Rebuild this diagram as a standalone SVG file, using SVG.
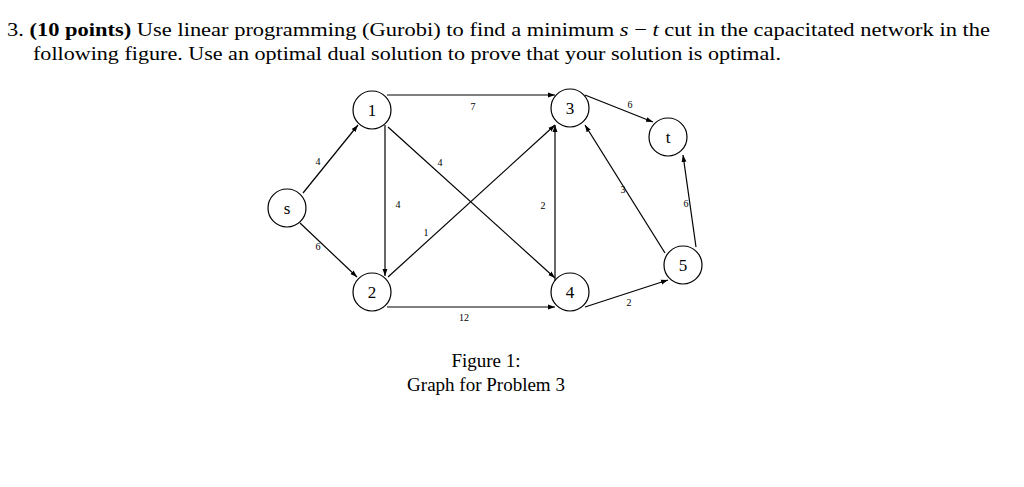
<svg xmlns="http://www.w3.org/2000/svg" width="1024" height="487" viewBox="0 0 1024 487">
<style>
text{font-family:"Liberation Serif","DejaVu Serif",serif;fill:#000}
.n circle{fill:#fff;stroke:#000;stroke-width:1.2}
.n text{font-size:17px;text-anchor:middle}
.e line{stroke:#000;stroke-width:1.2;marker-end:url(#a)}
.l{font-size:10px;text-anchor:middle}
.h{font-size:19px}
</style>
<defs><marker id="a" viewBox="0 0 10 10" refX="10" refY="5" markerWidth="7" markerHeight="7" orient="auto" markerUnits="userSpaceOnUse"><path d="M0,1.5L10,5L0,8.5z" fill="#000"/></marker></defs>
<rect width="1024" height="487" fill="#fff"/>
<text class="h" x="7" y="36" textLength="983" lengthAdjust="spacingAndGlyphs">3. <tspan font-weight="bold">(10 points)</tspan> Use linear programming (Gurobi) to find a minimum <tspan font-style="italic">s</tspan> − <tspan font-style="italic">t</tspan> cut in the capacitated network in the</text>
<text class="h" x="33" y="60" textLength="748" lengthAdjust="spacingAndGlyphs">following figure. Use an optimal dual solution to prove that your solution is optimal.</text>
<g id="connectors" class="e">
<line x1="303" y1="193" x2="358" y2="125"/>
<line x1="300" y1="223" x2="357" y2="277"/>
<line x1="387" y1="95" x2="555" y2="95"/>
<line x1="385" y1="125" x2="385" y2="276"/>
<line x1="388" y1="127" x2="555" y2="278"/>
<line x1="388" y1="277" x2="555" y2="125"/>
<line x1="387" y1="307" x2="555" y2="307"/>
<line x1="555" y1="292" x2="555" y2="125"/>
<line x1="585" y1="95" x2="653" y2="122"/>
<line x1="665" y1="253" x2="585" y2="125"/>
<line x1="696" y1="247" x2="683" y2="155"/>
<line x1="585" y1="307" x2="668" y2="280"/>
</g>
<g id="labels">
<text class="l" x="318" y="165">4</text>
<text class="l" x="318" y="250">6</text>
<text class="l" x="473" y="110">7</text>
<text class="l" x="398" y="208">4</text>
<text class="l" x="440" y="166">4</text>
<text class="l" x="426" y="236">1</text>
<text class="l" x="543" y="209">2</text>
<text class="l" x="630" y="108">6</text>
<text class="l" x="623" y="193">3</text>
<text class="l" x="686" y="207">6</text>
<text class="l" x="629" y="306">2</text>
<text class="l" x="464" y="321">12</text>
</g>
<g id="s" class="n"><circle cx="287" cy="208" r="19"/><text x="287" y="214">s</text></g>
<g id="n1" class="n"><circle cx="372" cy="110" r="19"/><text x="372" y="116">1</text></g>
<g id="n2" class="n"><circle cx="372" cy="292" r="19"/><text x="372" y="298">2</text></g>
<g id="n3" class="n"><circle cx="570" cy="108" r="19"/><text x="570" y="114">3</text></g>
<g id="n4" class="n"><circle cx="570" cy="292" r="19"/><text x="570" y="298">4</text></g>
<g id="t" class="n"><circle cx="668" cy="137" r="19"/><text x="668" y="143">t</text></g>
<g id="n5" class="n"><circle cx="683" cy="265" r="19"/><text x="683" y="271">5</text></g>
<text x="486" y="367" font-size="19" text-anchor="middle">Figure 1:</text>
<text x="486" y="391" font-size="19" text-anchor="middle">Graph for Problem 3</text>
</svg>
